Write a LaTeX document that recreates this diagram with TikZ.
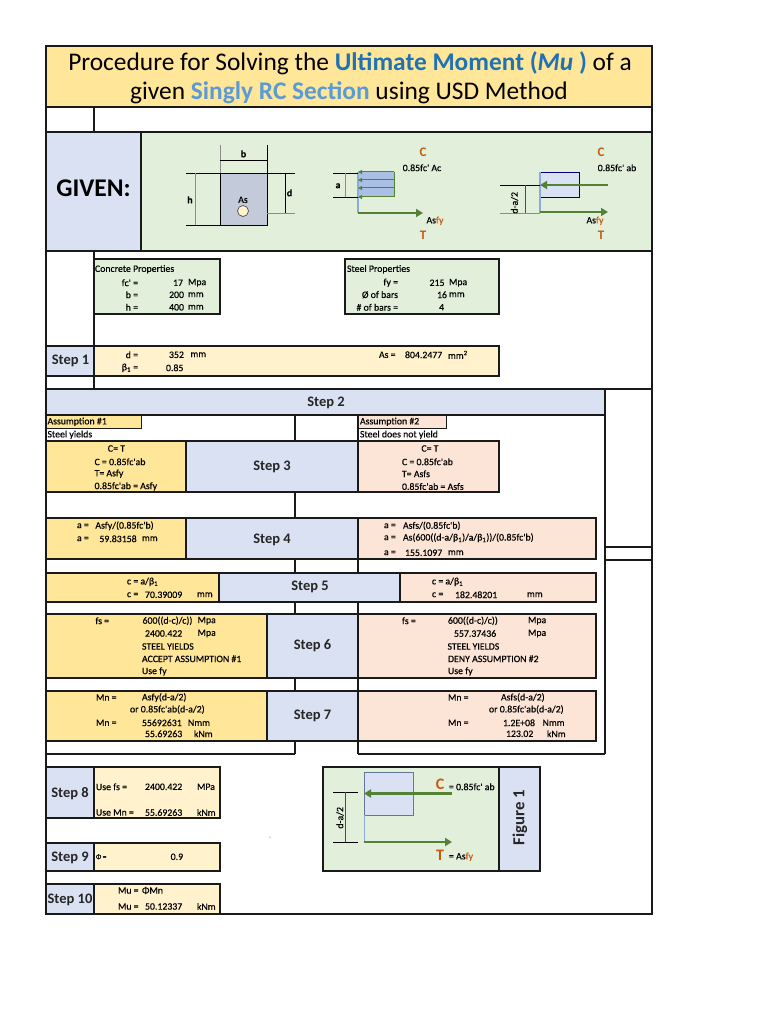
\documentclass[tikz,border=0pt]{standalone}
\usepackage{fontspec}
\setmainfont{Carlito}
\newfontfamily\bodyf[FakeBold=0.35]{Carlito}
\usetikzlibrary{arrows.meta}
\definecolor{cyel}{HTML}{FFE699}
\definecolor{clyel}{HTML}{FFF2CC}
\definecolor{cblu}{HTML}{D9E1F2}
\definecolor{cgrn}{HTML}{E2EFDA}
\definecolor{cpch}{HTML}{FCE4D6}
\definecolor{ctb}{HTML}{1F72B4}
\definecolor{ctl}{HTML}{5B9BD5}
\definecolor{corg}{HTML}{C55A11}
\definecolor{carr}{HTML}{548235}
\definecolor{cline}{HTML}{1A1A1A}
\definecolor{cedge}{HTML}{8EAADB}
\newcounter{tn}
\newcommand\fsz{\bodyf\fontsize{9.8}{11}\selectfont}
\tikzset{
  txt/.style={inner sep=0pt,outer sep=0pt,font=\fsz,text=black,yshift=-.8pt},
  stp/.style={inner sep=0pt,outer sep=0pt,font=\fontsize{14.5}{16}\selectfont\bfseries,text=black!85,yshift=-.8pt},
  cellbox/.style={draw=cline,line width=1.4pt},
  rule/.style={draw=cline,line width=1.4pt},
  thin rule/.style={draw=black,line width=.8pt},
  grey rule/.style={draw=black!45,line width=.9pt},
  force/.style={draw=carr,line width=2.2pt,-{Triangle[length=7pt,width=8pt]}},
  forcethin/.style={draw=carr,line width=1pt,-{Triangle[length=4pt,width=4pt]}},
  big/.style={inner sep=0pt,outer sep=0pt,font=\fontsize{13}{15}\selectfont\bfseries,text=corg},
}
\newcommand\tl[3]{\stepcounter{tn}\node[txt,anchor=west] (t\thetn) at (#1,#2) {#3};}
\newcommand\tr[3]{\stepcounter{tn}\node[txt,anchor=east] (t\thetn) at (#1,#2) {#3};}
\newcommand\tc[3]{\stepcounter{tn}\node[txt] (t\thetn) at (#1,#2) {#3};}
\newcommand\st[3]{\stepcounter{tn}\node[stp] (t\thetn) at (#1,#2) {#3};}
\newcommand\bx[5]{\draw[cellbox,fill=#1] (#2,#3) rectangle (#4,#5);}
\newcommand\hl[3]{\draw[rule] (#1,#3) -- (#2,#3);}
\newcommand\vl[3]{\draw[rule] (#1,#2) -- (#1,#3);}
\begin{document}
\begin{tikzpicture}[x=1pt,y=-1pt]
\useasboundingbox (0,0) rectangle (768,1024);
\fill[white] (0,0) rectangle (768,1024);
% skeleton rules
\vl{94}{107}{132}\vl{94}{251}{389}
\hl{46}{652}{389}
\vl{605}{389}{754}
\hl{605}{652}{547}\hl{605}{652}{560}
\vl{295}{415}{441}\vl{295}{492}{518}
\vl{295}{560}{573}\vl{358}{560}{573}
\vl{295}{602}{614}\vl{358}{602}{614}
\vl{295}{678}{691}\vl{358}{678}{691}
\vl{295}{741}{754}\vl{358}{741}{754}
\hl{46}{295}{754}\hl{358}{605}{754}
\vl{358}{415}{441}
\hl{46}{358}{441}
% title and given
\bx{cyel}{46}{46}{652}{107}
\bx{cblu}{46}{132}{141}{251}
\bx{cgrn}{141}{132}{652}{251}
% properties
\bx{cgrn}{94}{259}{220}{314}
\bx{cgrn}{345}{259}{499}{314}
% step 1
\bx{cblu}{46}{346}{94}{376}
\bx{clyel}{94}{346}{499}{376}
% step 2
\bx{cblu}{46}{389}{605}{415}
\draw[cline,line width=1pt,fill=cyel] (46,415) rectangle (141,428);
\draw[cline,line width=1pt,fill=cpch] (358,415) rectangle (446,428);
% steps 3-7
\bx{cyel}{46}{441}{186}{492}\bx{cblu}{186}{441}{358}{492}\bx{cpch}{358}{441}{499}{492}
\bx{cyel}{46}{518}{186}{559}\bx{cblu}{186}{518}{358}{559}\bx{cpch}{358}{518}{596}{559}
\bx{cyel}{46}{573}{219}{602}\bx{cblu}{219}{573}{400}{602}\bx{cpch}{400}{573}{596}{602}
\bx{cyel}{46}{614}{267}{678}\bx{cblu}{267}{614}{358}{678}\bx{cpch}{358}{614}{596}{678}
\bx{cyel}{46}{691}{267}{741}\bx{cblu}{267}{691}{358}{741}\bx{cpch}{358}{691}{596}{741}
% steps 8-10
\bx{cblu}{46}{767}{94}{818}\bx{clyel}{94}{767}{220}{818}
\bx{cblu}{46}{843}{94}{871}\bx{clyel}{94}{843}{220}{871}
\bx{cblu}{46}{884}{94}{914}\bx{clyel}{94}{884}{220}{914}
% figure 1
\bx{cgrn}{323}{767}{499}{871}\bx{cblu}{499}{767}{540}{871}
% outer frame
\draw[rule] (46,46) rectangle (652,914);
\hl{46}{652}{132}
% title text
\node[inner sep=0pt,font=\fontsize{25.4}{30}\selectfont] (title1) at (350,63) {Procedure for Solving the \textcolor{ctb}{\textbf{Ultimate Moment (\textit{Mu} )}} of a};
\node[inner sep=0pt,font=\fontsize{25.4}{30}\selectfont] (title2) at (349,93) {given \textcolor{ctl}{\textbf{Singly RC Section}} using USD Method};
\node[inner sep=0pt,font=\fontsize{25.5}{30}\selectfont\bfseries] (given) at (93.5,188.5) {GIVEN:};
% section sketch
\draw[thin rule,fill=cblu!90!black] (220,173) rectangle (267,225);
\draw[grey rule] (220,145) -- (220,173);
\draw[thin rule] (267,145) -- (267,173);
\draw[thin rule] (220,160) -- (267,160);
\draw[thin rule] (186,173) -- (295,173);
\draw[thin rule] (186,225) -- (220,225);
\draw[grey rule] (195,173) -- (195,225);
\draw[thin rule] (285,173) -- (285,213);
\draw[grey rule] (267,213) -- (295,213);
\draw[black!70,fill=clyel,line width=.7pt] (243,211) circle (5.5);
\tc{243.5}{153}{\textbf{b}}
\tc{190}{199}{\textbf{h}}
\tc{289.5}{192}{\textbf{d}}
\tc{243}{199}{As}
% stress block
\fill[cedge!75] (358,172) rectangle (394,197);
\draw[cedge,line width=1.2pt] (358,172) -- (358,213);
\draw[thin rule] (333,173) -- (358,173);
\draw[thin rule] (333,197) -- (358,197);
\draw[grey rule] (345,173) -- (345,197);
\draw[carr,line width=1pt] (394,172) -- (394,197);
\foreach \yy in {172,180,188,197}{\draw[forcethin] (394,\yy) -- (358,\yy);}
\draw[force] (358,213) -- (423,213);
\tc{338}{185}{\textbf{a}}
\stepcounter{tn}\node[big] (t\thetn) at (423,152) {C};
\tc{422}{167}{0.85fc' Ac}
\tc{435}{220}{As\textcolor{corg}{fy}}
\stepcounter{tn}\node[big] (t\thetn) at (423,235) {T};
% equivalent block
\draw[draw=black!60!blue,line width=.8pt,fill=cblu] (540,172) rectangle (579,197);
\draw[cedge,line width=1.4pt] (540,172) -- (540,213);
\draw[thin rule] (500,185) -- (540,185);
\draw[grey rule] (500,213) -- (540,213);
\draw[black!70,line width=1pt] (525.5,185) -- (525.5,213);
\draw[force] (608,185) -- (540,185);
\draw[force,line width=1.6pt] (540,212) -- (608,212);
\stepcounter{tn}\node[txt,rotate=90] (t\thetn) at (514.5,202) {d-a/2};
\stepcounter{tn}\node[big] (t\thetn) at (601,152) {C};
\tc{617}{167}{0.85fc' ab}
\tc{595}{220}{As\textcolor{corg}{fy}}
\stepcounter{tn}\node[big] (t\thetn) at (601,235) {T};
% properties text
\tl{95}{268.5}{Concrete Properties}
\tr{138}{282}{fc' =}\tr{183}{282}{17}\tl{188}{282}{Mpa}
\tr{138}{294}{b =}\tr{184}{294}{200}\tl{188}{294}{mm}
\tr{138}{306.5}{h =}\tr{184}{306.5}{400}\tl{188}{306.5}{mm}
\tl{347}{268.5}{Steel Properties}
\tr{398}{282}{fy =}\tc{437}{282}{215}\tl{449}{282}{Mpa}
\tr{398}{294}{Ø of bars}\tc{442}{294}{16}\tl{449}{294}{mm}
\tr{398}{306.5}{\# of bars =}\tc{441.6}{306.5}{4}
% step 1
\st{70.5}{360.5}{Step 1}
\tr{138}{354}{d =}\tl{169}{354}{352}\tl{190.5}{354}{mm}
\tr{138}{367}{β\textsubscript{1} =}\tl{166}{367}{0.85}
\tl{379}{354}{As =}\tl{405}{354}{804.2477}\tl{448}{354}{mm\textsuperscript{2}}
% step 2
\st{326}{401.6}{Step 2}
\tl{47.5}{421}{Assumption \#1}
\tl{360}{421}{Assumption \#2}
\tl{47.5}{434}{Steel yields}
\tl{360}{434}{Steel does not yield}
% step 3
\st{272}{466}{Step 3}
\tc{116.4}{447.7}{C= T}
\tl{94.6}{461}{C = 0.85fc'ab}
\tl{94.6}{473}{T= Asfy}
\tl{94.6}{485.7}{0.85fc'ab = Asfy}
\tc{430}{447.7}{C= T}
\tl{402}{461}{C = 0.85fc'ab}
\tl{402}{473}{T= Asfs}
\tl{402}{485.7}{0.85fc'ab = Asfs}
% step 4
\st{272}{538.7}{Step 4}
\tl{77}{525}{a =}\tl{95.4}{525}{Asfy/(0.85fc'b)}
\tl{77}{538}{a =}\tl{99.4}{538}{59.83158}\tl{142}{538}{mm}
\tl{384}{525}{a =}\tl{403}{525}{Asfs/(0.85fc'b)}
\tl{384}{537}{a =}\tl{403}{537}{As(600((d-a/β\textsubscript{1})/a/β\textsubscript{1}))/(0.85fc'b)}
\tl{384}{552}{a =}\tl{405}{552}{155.1097}\tl{448}{552}{mm}
% step 5
\st{310}{586}{Step 5}
\tl{127}{581}{c = a/β\textsubscript{1}}
\tl{127}{594}{c =}\tl{145}{594}{70.39009}\tl{197}{594}{mm}
\tl{432}{581}{c = a/β\textsubscript{1}}
\tl{432}{594}{c =}\tl{455}{594}{182.48201}\tl{527}{594}{mm}
% step 6
\st{312.5}{645}{Step 6}
\tl{95.4}{620}{fs =}\tl{142.6}{620}{600((d-c)/c))}\tl{197.6}{620}{Mpa}
\tl{145}{632.7}{2400.422}\tl{197.6}{632.7}{Mpa}
\tl{142}{645.7}{STEEL YIELDS}
\tl{142}{658}{ACCEPT ASSUMPTION \#1}
\tl{142}{670.7}{Use fy}
\tl{402}{620}{fs =}\tl{448}{620}{600((d-c)/c))}\tl{528}{620}{Mpa}
\tl{454}{632.7}{557.37436}\tl{528}{632.7}{Mpa}
\tl{447.5}{645.7}{STEEL YIELDS}
\tl{448}{658}{DENY ASSUMPTION \#2}
\tl{448}{670.7}{Use fy}
% step 7
\st{312.5}{714.7}{Step 7}
\tl{96}{696.7}{Mn =}\tl{142}{696.7}{Asfy(d-a/2)}
\tl{130}{708.7}{or 0.85fc'ab(d-a/2)}
\tl{96}{722}{Mn =}\tl{142}{722}{55692631}\tl{188}{722}{Nmm}
\tl{145}{733}{55.69263}\tl{194}{733}{kNm}
\tl{448}{696.7}{Mn =}\tl{501}{696.7}{Asfs(d-a/2)}
\tl{489}{708.7}{or 0.85fc'ab(d-a/2)}
\tl{448}{722}{Mn =}\tl{503}{722}{1.2E+08}\tl{542.6}{722}{Nmm}
\tl{506}{733}{123.02}\tl{547}{733}{kNm}
% steps 8-10
\st{70}{792.7}{Step 8}
\tl{96}{786}{Use fs =}\tl{145}{786}{2400.422}\tl{197}{786}{MPa}
\tl{96}{811.7}{Use Mn =}\tl{145}{811.7}{55.69263}\tl{197}{811.7}{kNm}
\st{70}{856.7}{Step 9}
\tl{96}{856}{\fontsize{7}{8}\selectfont Φ =}\tl{170.7}{856}{0.9}
\st{70}{898.7}{Step 10}
\tl{118}{889.7}{Mu =}\tl{142}{889.7}{ΦMn}
\tl{118}{905.7}{Mu =}\tl{145}{905.7}{50.12337}\tl{197}{905.7}{kNm}
\fill[black!70] (270,837) circle (.5);
% figure 1
\draw[draw=cedge!70!black,line width=1pt,fill=cblu] (364,772) rectangle (413.5,815);
\draw[cedge,line width=1pt] (364,815) -- (364,842);
\draw[thin rule] (333,792) -- (358,792);
\draw[thin rule] (333,842) -- (358,842);
\draw[black!70,line width=.8pt] (345,792) -- (345,842);
\draw[force] (452,793.5) -- (364,793.5);
\draw[force] (364,842) -- (452,842);
\stepcounter{tn}\node[txt,rotate=90] (t\thetn) at (340,817) {d-a/2};
\stepcounter{tn}\node[big,font=\fontsize{16}{18}\selectfont\bfseries] (t\thetn) at (440,784) {C};
\tl{449}{786}{= 0.85fc' ab}
\stepcounter{tn}\node[big,font=\fontsize{16}{18}\selectfont\bfseries] (t\thetn) at (440,855) {T};
\tl{449}{856}{= As\textcolor{corg}{fy}}
\stepcounter{tn}\node[stp,rotate=90,font=\fontsize{16.8}{18}\selectfont\bfseries] (t\thetn) at (520,817) {Figure 1};
\end{tikzpicture}
\end{document}
